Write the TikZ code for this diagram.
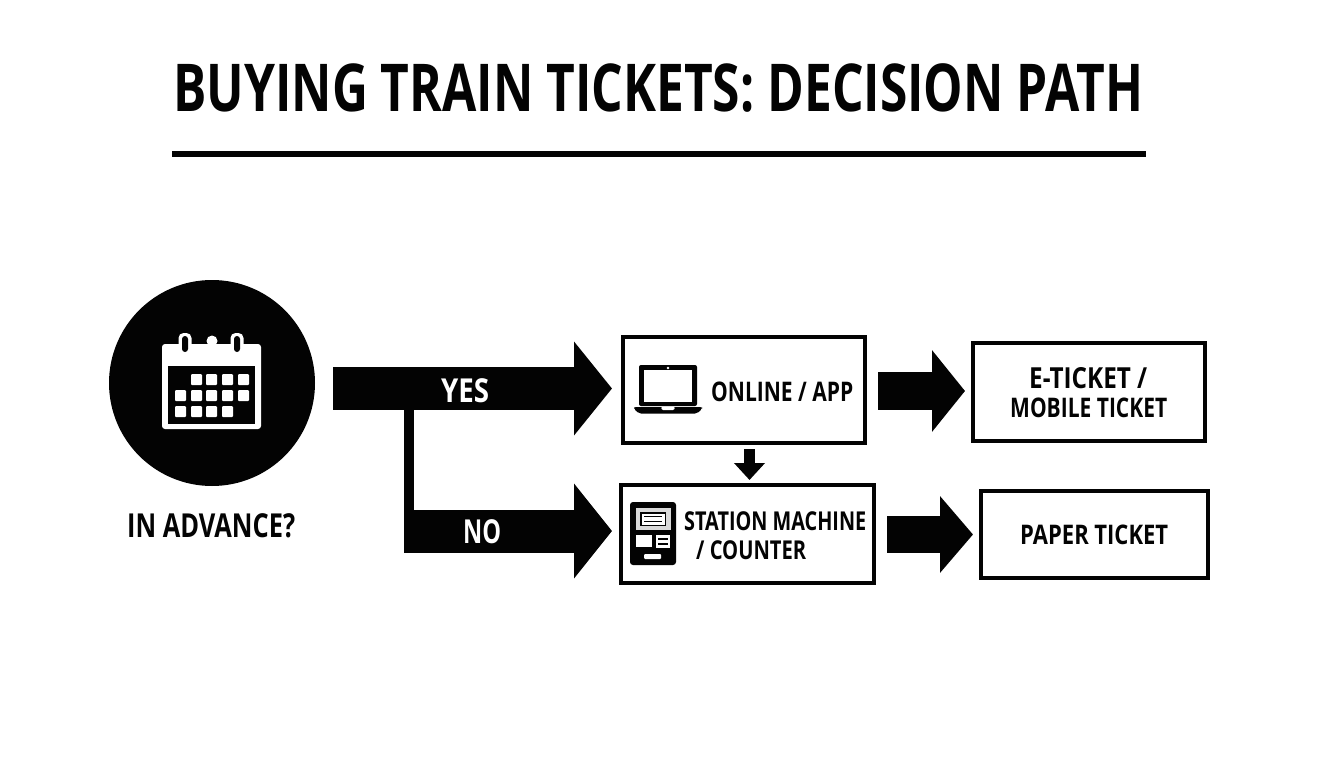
\documentclass[tikz,border=0pt]{standalone}
\usepackage{fontspec}
\usepackage{graphicx}
\setmainfont{Open Sans}[BoldFont={Open Sans Bold}]
\usetikzlibrary{arrows.meta}
\definecolor{ink}{HTML}{030303}
% \lbl{name}{x}{baseline y}{width}{font size}{colour}{text}
\newcommand{\lbl}[7]{\node[anchor=base west,inner sep=0pt,text=#6] (#1) at (#2,#3) {\resizebox{#4pt}{\height}{\fontsize{#5pt}{#5pt}\selectfont\bfseries #7}};}
\tikzset{
  flowbox/.style={draw=ink,line width=4pt,fill=white,inner sep=0pt},
  blockarrow/.style n args={3}{draw=ink,line width=#1pt,-{Triangle[length=#2pt,width=#3pt,fill=ink]}},
}
\begin{document}
\begin{tikzpicture}[x=1pt,y=-1pt]
\useasboundingbox (0,0) rectangle (1344,768);
\fill[white] (0,0) rectangle (1344,768);
\lbl{title}{173}{111}{970}{66}{ink}{BUYING TRAIN TICKETS: DECISION PATH}
\fill[ink] (172,151) rectangle (1146,157);
% decision circle
\node[circle,fill=ink,minimum size=206pt,inner sep=0pt] (decision) at (212,383) {};
\lbl{advance}{127}{537}{168}{33}{ink}{IN ADVANCE?}
% calendar
\fill[white,rounded corners=3pt] (162,344) rectangle (261,429);
\fill[white] (212,341) circle (5.5pt);
\fill[ink] (168,366) rectangle (255,424);
\foreach \rx in {185,237}{
  \fill[white,rounded corners=5pt] (\rx-6.5,333) rectangle (\rx+6.5,355);
  \fill[ink,rounded corners=3pt] (\rx-3,336) rectangle (\rx+3,352);
}
\foreach \cx/\cy in {191/374,206/374,222/374,238/374,175/390,191/390,206/390,222/390,238/390,175/406,191/406,206/406,222/406}{
  \fill[white,rounded corners=1pt] (\cx,\cy) rectangle (\cx+11,\cy+11);
}
% boxes
\node[flowbox,minimum width=242pt,minimum height=106pt] (online) at (744,390) {};
\node[flowbox,minimum width=253pt,minimum height=98pt] (station) at (747.5,534) {};
\node[flowbox,minimum width=232pt,minimum height=98pt] (eticket) at (1089,392) {};
\node[flowbox,minimum width=227pt,minimum height=87pt] (paper) at (1094.5,534.5) {};
% connectors
\coordinate (yesstart) at (333,388.5);
\coordinate (nostart) at (404,531);
\coordinate (branchtop) at (409,410);
\coordinate (branchend) at (409,510);
\coordinate (olstart) at (878,391);
\coordinate (ststart) at (887,534.5);
\coordinate (downstart) at (749.5,449);
\draw[blockarrow={43}{38}{92},shorten >=9pt] (yesstart) -- (yesstart -| online.west);
\draw[draw=ink,line width=10pt] (branchtop) -- (branchend);
\draw[blockarrow={43}{38}{93},shorten >=7pt] (nostart) -- (nostart -| station.west);
\draw[blockarrow={38}{33}{80},shorten >=6pt] (olstart) -- (olstart -| eticket.west);
\draw[blockarrow={37}{33}{75},shorten >=6pt] (ststart) -- (ststart -| paper.west);
\draw[blockarrow={11}{17}{30},shorten >=3pt] (downstart) -- (downstart |- station.north);
% arrow labels
\lbl{yes}{441}{402}{48}{33}{white}{YES}
\lbl{no}{463}{543}{38}{33}{white}{NO}
% box labels
\lbl{onlinetxt}{711}{401}{142}{27}{ink}{ONLINE / APP}
\lbl{stationtxt}{684}{530}{182}{26}{ink}{STATION MACHINE}
\lbl{countertxt}{696}{559}{110}{26}{ink}{/ COUNTER}
\lbl{etxt}{1029}{388}{118}{29}{ink}{E-TICKET /}
\lbl{mobiletxt}{1010}{417}{157}{27}{ink}{MOBILE TICKET}
\lbl{papertxt}{1020}{544}{148}{27}{ink}{PAPER TICKET}
% laptop
\fill[ink,rounded corners=2pt] (639,365) rectangle (697,406);
\fill[white] (644,370) rectangle (692,402);
\fill[white] (668,368) circle (1.3pt);
\fill[ink,rounded corners=2pt] (634,407) -- (702,407) -- (702,409) -- (697,413.5) -- (639,413.5) -- (634,409) -- cycle;
\fill[white,rounded corners=1pt] (661,407) -- (675,407) -- (674,410) -- (662,410) -- cycle;
% ticket machine
\fill[ink,rounded corners=3pt] (630,502) rectangle (676,565);
\fill[white!85!black] (636,508) rectangle (671,530);
\fill[ink] (640,512) rectangle (666,526);
\fill[white] (641.5,513.5) rectangle (664.5,524.5);
\fill[ink] (644,515.5) rectangle (662,517);
\fill[ink] (644,520.5) rectangle (662,522);
\fill[white] (636,535) rectangle (652,547);
\fill[white] (656,535) rectangle (670,548);
\fill[ink] (658,537.5) rectangle (668,540);
\fill[ink] (658,542.5) rectangle (668,545);
\fill[white,rounded corners=1pt] (644,554) rectangle (661,559);
\end{tikzpicture}
\end{document}
